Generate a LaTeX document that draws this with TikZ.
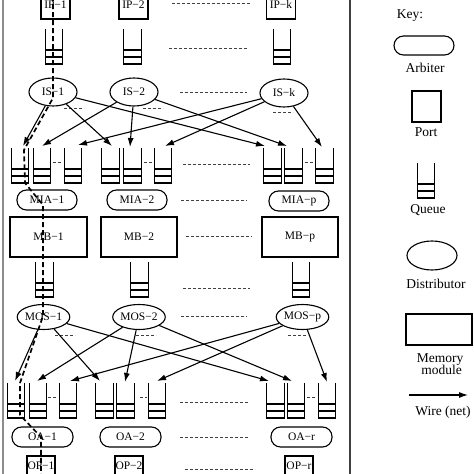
\documentclass[tikz,border=0pt]{standalone}
\usepackage{fontspec}
\setmainfont{Liberation Serif}
\usetikzlibrary{arrows.meta,shapes.geometric}
\begin{document}
\begin{tikzpicture}[x=1pt,y=-1pt,
  lbl/.style={font=\fontsize{11.5}{12}\selectfont},
  keytxt/.style={font=\fontsize{13.5}{14}\selectfont, inner sep=0pt},
  port/.style={draw, line width=1.1pt, rectangle, minimum width=29pt, minimum height=29pt, inner sep=0pt, lbl},
  arb/.style={draw, line width=1.1pt, rectangle, rounded corners=9.5pt, minimum width=60pt, minimum height=20pt, inner sep=0pt, lbl},
  dist/.style={draw, line width=1.1pt, ellipse, minimum width=48pt, minimum height=28pt, inner sep=0pt, lbl},
  mem/.style={draw, line width=1.1pt, rectangle, minimum width=77pt, minimum height=40pt, inner sep=0pt, lbl},
  qline/.style={line width=1.1pt},
  qpic/.pic={\draw[qline] (-8.75,0) -- (-8.75,35) -- (8.75,35) -- (8.75,0);
             \draw[qline] (-8.75,21) -- (8.75,21) (-8.75,28) -- (8.75,28);},
  wire/.style={line width=1.1pt, -{Latex[length=9pt,width=6pt]}},
  sep/.style={line width=0.6pt, black!75, dash pattern=on 3pt off 2pt},
  route/.style={line width=1.7pt, dash pattern=on 5pt off 3pt}
]
\useasboundingbox (0,0) rectangle (474,474);
% frame lines
\draw[line width=2pt, black!45] (3,0) -- (3,474);
\draw[line width=1.2pt, black!75] (350,0) -- (350,474);

% input ports
\node[port] (ip1) at (55.5,4.5) {IP−1};
\node[port] (ip2) at (133.5,4.5) {IP−2};
\node[port] (ipk) at (281,4.5) {IP−k};
\draw[sep] (172,3) -- (250,3);

% input queues
\pic at (54,29) {qpic};
\pic at (132.5,29) {qpic};
\pic at (282,29) {qpic};
\draw[sep] (169,48) -- (247,48);

% input distributors
\node[dist] (is1) at (53,92) {IS−1};
\node[dist] (is2) at (134,92) {IS−2};
\node[dist] (isk) at (284,93) {IS−k};
\draw[sep] (180,92) -- (247,92);
\draw[sep] (64,108) -- (84,108);
\draw[sep] (143,108) -- (163,108);
\draw[sep] (273,112) -- (293,112);

% memory input queues
\foreach \x in {20,42,73,110.5,132.5,163,272.5,293.5,324.5} \pic at (\x,148) {qpic};
\draw[sep] (53,162) -- (62,162);
\draw[sep] (144,162) -- (152,162);
\draw[sep] (305,162) -- (313,162);
\draw[sep] (183,164) -- (250,164);

% arrow targets
\coordinate (m1a) at (23,146);  \coordinate (m2a) at (112,146); \coordinate (mpa) at (265,146);
\coordinate (m1b) at (42,146);  \coordinate (m2b) at (130,147); \coordinate (mpb) at (287,146);
\coordinate (m1c) at (78,145);  \coordinate (m2c) at (165,146); \coordinate (mpc) at (322,147);
\draw[wire] (is1) -- (m1a); \draw[wire] (is1) -- (m2a); \draw[wire] (is1) -- (mpa);
\draw[wire] (is2) -- (m1b); \draw[wire] (is2) -- (m2b); \draw[wire] (is2) -- (mpb);
\draw[wire] (isk) -- (m1c); \draw[wire] (isk) -- (m2c); \draw[wire] (isk) -- (mpc);

% memory input arbiters
\node[arb] (mia1) at (47,200) {MIA−1};
\node[arb] (mia2) at (137,200) {MIA−2};
\node[arb] (miap) at (299,201) {MIA−p};
\draw[sep] (181,200) -- (247,200);

% memory blocks
\node[mem] (mb1) at (48.5,237) {MB−1};
\node[mem, minimum width=76pt] (mb2) at (139,237) {MB−2};
\node[mem, minimum width=76pt] (mbp) at (300,237) {MB−p};
\draw[sep] (186,236) -- (252,236);

% memory output queues
\pic at (44.5,262) {qpic};
\pic at (139.5,262) {qpic};
\pic at (301,262) {qpic};
\draw[sep] (183,288) -- (250,288);

% memory output distributors
\node[dist, minimum height=25pt] (mos1) at (43.5,317) {MOS−1};
\node[dist, minimum height=25pt] (mos2) at (139,317) {MOS−2};
\node[dist, minimum height=25pt] (mosp) at (302.5,317) {MOS−p};
\draw[sep] (181,316) -- (247,316);
\draw[sep] (55,335) -- (75,335);
\draw[sep] (136,335) -- (156,335);
\draw[sep] (288,335) -- (308,335);

% output queues
\foreach \x in {16,38,68,104.5,125.5,157,275.5,296,327} \pic at (\x,383) {qpic};
\draw[sep] (48,397) -- (57,397);
\draw[sep] (140,397) -- (147,397);
\draw[sep] (307,397) -- (316,397);
\draw[sep] (180,402) -- (248,402);

\coordinate (o1a) at (15,381);  \coordinate (o2a) at (100,381); \coordinate (ora) at (269,381);
\coordinate (o1b) at (37,381);  \coordinate (o2b) at (125,382); \coordinate (orb) at (292,381);
\coordinate (o1c) at (70,381);  \coordinate (o2c) at (157,381); \coordinate (orc) at (327,382);
\draw[wire] (mos1) -- (o1a); \draw[wire] (mos1) -- (o2a); \draw[wire] (mos1) -- (ora);
\draw[wire] (mos2) -- (o1b); \draw[wire] (mos2) -- (o2b); \draw[wire] (mos2) -- (orb);
\draw[wire] (mosp) -- (o1c); \draw[wire] (mosp) -- (o2c); \draw[wire] (mosp) -- (orc);

% output arbiters
\node[arb, minimum width=61pt] (oa1) at (42.5,437) {OA−1};
\node[arb, minimum width=61pt] (oa2) at (130.5,437) {OA−2};
\node[arb, minimum width=61pt] (oar) at (301.5,437) {OA−r};
\draw[sep] (180,437) -- (248,437);

% output ports (boxes run past the bottom edge)
\node[port, minimum width=28pt] (op1) at (41,470.5) {};
\node[port, minimum width=28pt] (op2) at (129,470.5) {};
\node[port, minimum width=28pt] (opr) at (299,470.5) {};
\node[lbl, inner sep=0pt] (op1t) at (41,466) {OP−1};
\node[lbl, inner sep=0pt] (op2t) at (129,466) {OP−2};
\node[lbl, inner sep=0pt] (oprt) at (299,466) {OP−r};
\draw[sep] (185,469) -- (255,469);

% highlighted route
\coordinate (r0) at (53,-12);
\coordinate (r9) at (41,480);
\draw[route] (r0) -- (53,98) -- (24,150) -- (25,183) -- (43,205) -- (43,316)
   -- (20,383) -- (20,415) -- (41,437) -- (r9);

% key
\node[keytxt] (keyt) at (410,16) {Key:};
\node[arb, minimum height=19pt] (karb) at (424,45.5) {};
\node[keytxt] (karbt) at (425,68) {Arbiter};
\node[port, minimum height=31pt] (kport) at (426.5,106.5) {};
\node[keytxt] (kportt) at (426,132) {Port};
\pic at (426,163) {qpic};
\node[keytxt] (kqt) at (428,210) {Queue};
\node[dist, minimum width=50pt, minimum height=29pt] (kdist) at (432,255.5) {};
\node[keytxt] (kdistt) at (436,284) {Distributor};
\node[mem, minimum width=66pt, minimum height=31pt] (kmem) at (439,329.5) {};
\node[keytxt, align=center] (kmemt) at (440,364) {Memory\\[-2pt]\ module};
\coordinate (kw0) at (409,395);
\coordinate (kw1) at (468,395);
\draw[wire] (kw0) -- (kw1);
\node[keytxt] (kwt) at (443,412) {Wire (net)};
\end{tikzpicture}
\end{document}
